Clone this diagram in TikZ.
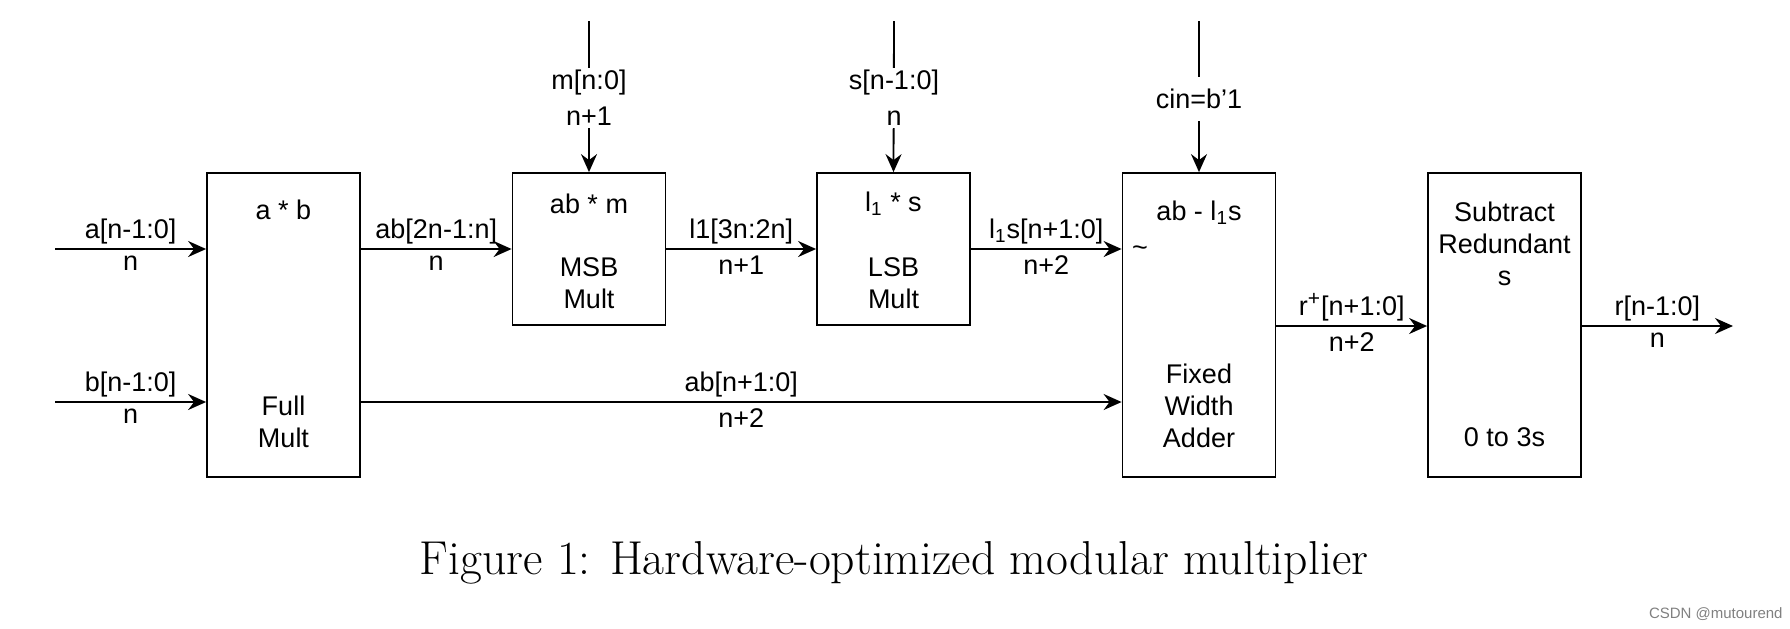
\documentclass[tikz,border=0pt]{standalone}
\usepackage{fontspec}
\setmainfont{Liberation Sans}
\newfontfamily\lmfont{Latin Modern Roman}
\usetikzlibrary{arrows.meta}
\begin{document}
\begin{tikzpicture}[x=0.5pt,y=-0.5pt,
  every node/.style={font=\fontsize{13.5}{16}\selectfont, inner sep=1pt},
  box/.style={draw, line width=0.9pt, minimum width=76.5pt, inner sep=0pt},
  arr/.style={line width=0.9pt, -{Stealth[length=9pt,width=8pt,inset=3pt]}},
  lbl/.style={align=center, fill=white, inner sep=1pt}]
\useasboundingbox (0,0) rectangle (1790,628);
% boxes
\node[box, minimum height=152pt] (full) at (283.5,325) {};
\node[box, minimum height=76pt] (msb) at (589,249) {};
\node[box, minimum height=76pt] (lsb) at (893.5,249) {};
\node[box, minimum height=152pt] (add) at (1199,325) {};
\node[box, minimum height=152pt] (sub) at (1504.5,325) {};
% box texts
\node (t1) at (283.5,210) {a * b};
\node[align=center] (t2) at (283.5,422) {Full\\Mult};
\node (t3) at (589,204) {ab * m};
\node[align=center] (t4) at (589,283) {MSB\\Mult};
\node (t5) at (893.5,204) {l\textsubscript{1} * s};
\node[align=center] (t6) at (893.5,283) {LSB\\Mult};
\node (t7) at (1199,213) {ab - l\textsubscript{1}s};
\node (t7b) at (1140,251) {\textasciitilde};
\node[align=center] (t8) at (1199,406) {Fixed\\Width\\Adder};
\node[align=center] (t9) at (1504.5,244) {Subtract\\Redundant\\s};
\node (t10) at (1504.5,437) {0 to 3s};
% free ends
\coordinate (ain) at (55,249);
\coordinate (bin) at (55,402);
\coordinate (mtop) at (589,21);
\coordinate (stop) at (894,21);
\coordinate (ctop) at (1199,21);
\coordinate (rout) at (1733,326);
% horizontal connectors
\draw[arr] (ain) -- (ain -| full.west)
  node[midway, above=1pt] (la1) {a[n-1:0]} node[midway, below=2pt] (la2) {n};
\draw[arr] (bin) -- (bin -| full.west)
  node[midway, above=1pt] (lb1) {b[n-1:0]} node[midway, below=2pt] (lb2) {n};
\draw[arr] (full.east |- msb.west) -- (msb.west)
  node[midway, above=1pt] (lc1) {ab[2n-1:n]} node[midway, below=2pt] (lc2) {n};
\draw[arr] (msb.east) -- (lsb.west)
  node[midway, above=1pt] (ld1) {l1[3n:2n]} node[midway, below=2pt] (ld2) {n+1};
\draw[arr] (lsb.east) -- (lsb.east -| add.west)
  node[midway, above=1pt] (le1) {l\textsubscript{1}s[n+1:0]} node[midway, below=2pt] (le2) {n+2};
\draw[arr] (full.east |- bin) -- (bin -| add.west)
  node[midway, above=1pt] (lf1) {ab[n+1:0]} node[midway, below=2pt] (lf2) {n+2};
\draw[arr] (add.east |- rout) -- (rout -| sub.west)
  node[midway, above=1pt] (lg1) {r{\fontsize{15}{16}\selectfont\textsuperscript{+}}[n+1:0]} node[midway, below=2pt] (lg2) {n+2};
\draw[arr] (sub.east |- rout) -- (rout)
  node[midway, above=1pt] (lh1) {r[n-1:0]} node[midway, below=2pt] (lh2) {n};
% vertical connectors
\draw[arr] (mtop) -- (msb.north);
\node[lbl] (lm) at (589,98) {m[n:0]\\[2pt]n+1};
\draw[arr] (stop) -- (lsb.north);
\node[lbl] (ls) at (894,98) {s[n-1:0]\\[2pt]n};
\draw[arr] (ctop) -- (add.north);
\node[lbl, inner ysep=6pt] (lc) at (1199,99) {cin=b'1};
% caption
\node[font=\lmfont\fontsize{23.8}{28}\selectfont] (cap) at (894,563) {Figure 1: Hardware-optimized modular multiplier};
\node[font=\fontsize{7.5}{9}\selectfont, text=gray, anchor=east] (wm) at (1785,614) {CSDN @mutourend};
\end{tikzpicture}
\end{document}
